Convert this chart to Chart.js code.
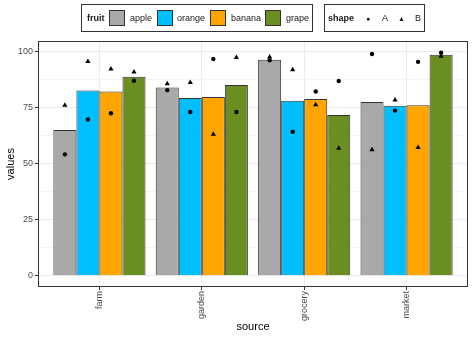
<!DOCTYPE html>
<html>
<head>
<meta charset="utf-8">
<script src="https://cdn.jsdelivr.net/npm/chart.js@4"></script>
<style>
  body { margin: 0; background: #fff; font-family: "Liberation Sans", Arial, sans-serif; }
  #wrap { position: relative; width: 474px; height: 338px; }
  canvas { position: absolute; left: 0; top: 0; }
  .box { position: absolute; top: 4px; height: 28px; border: 1px solid #333; box-sizing: border-box; }
  .lg { position: absolute; font-size: 9px; color: #1a1a1a; top: 18px; transform: translateY(-50%); white-space: nowrap; }
  .ttl { font-weight: bold; }
  .sw { position: absolute; top: 10px; width: 16px; height: 16px; box-sizing: border-box; border: 1px solid #333; }
</style>
</head>
<body>
<div id="wrap">
  <canvas id="myChart" width="474" height="338"></canvas>
  <div class="box" style="left:81px;width:232px"></div>
  <div class="box" style="left:324px;width:101px"></div>
  <span class="lg ttl" style="left:87px">fruit</span>
  <div class="sw" id="sw0" style="left:109px"></div><span class="lg" style="left:130px">apple</span>
  <div class="sw" id="sw1" style="left:157px"></div><span class="lg" style="left:177px">orange</span>
  <div class="sw" id="sw2" style="left:210px"></div><span class="lg" style="left:231px">banana</span>
  <div class="sw" id="sw3" style="left:265px"></div><span class="lg" style="left:286px">grape</span>
  <span class="lg ttl" style="left:328px">shape</span>
  <span class="lg" style="left:366px;font-size:7px">&#9679;</span><span class="lg" style="left:382px">A</span>
  <span class="lg" style="left:398px;font-size:7px">&#9650;</span><span class="lg" style="left:415px">B</span>
</div>
<script>
// categories
const sources = ['farm', 'garden', 'grocery', 'market'];
const fruits = ['apple', 'orange', 'banana', 'grape'];
const fruitColors = ['#A9A9A9', '#00BFFF', '#FFA500', '#6B8E23'];

// bar heights, one array per fruit (farm, garden, grocery, market)
const apple  = [65.0, 83.9, 96.2, 77.4];
const orange = [82.6, 79.2, 78.0, 75.7];
const banana = [82.1, 79.6, 78.8, 76.0];
const grape  = [88.7, 85.0, 71.6, 98.5];

// point values for shape A (circle) and B (triangle), rows = fruits
const shapeA = [
  [54.1, 82.7, 96.0, 98.8],
  [69.6, 73.0, 64.2, 73.6],
  [72.4, 96.6, 82.1, 95.3],
  [86.9, 73.0, 86.8, 99.4]
];
const shapeB = [
  [76.0, 85.6, 97.5, 56.2],
  [95.5, 86.1, 91.8, 78.3],
  [92.1, 63.1, 76.2, 57.1],
  [90.8, 97.2, 56.8, 97.8]
];

const yTicks = [0, 25, 50, 75, 100];

const barValues = [apple, orange, banana, grape];
const dodge = 0.9 / fruits.length;   // ggplot position_dodge(0.9)

function dodged(rows) {
  var pts = [];
  rows.forEach(function(row, j) {
    row.forEach(function(v, i) {
      pts.push({x: i + (j - 1.5) * dodge, y: v});
    });
  });
  return pts;
}

var datasets = fruits.map(function(f, j) {
  return {
    type: 'bar',
    label: f,
    data: barValues[j].map(function(v, i) { return {x: i, y: v}; }),
    backgroundColor: fruitColors[j],
    borderColor: '#333333',
    borderWidth: 1,
    categoryPercentage: 0.9,
    barPercentage: 1.0
  };
});
datasets.push({
  type: 'scatter', label: 'A', data: dodged(shapeA), order: -1,
  pointStyle: 'circle', pointRadius: 2.2, backgroundColor: '#000', borderColor: '#000', borderWidth: 0
});
datasets.push({
  type: 'scatter', label: 'B', data: dodged(shapeB), order: -1,
  pointStyle: 'triangle', pointRadius: 3, backgroundColor: '#000', borderColor: '#000', borderWidth: 0
});

fruitColors.forEach(function(c, j) { document.getElementById('sw' + j).style.background = c; });

// panel border, rotated x labels and axis titles, drawn like ggplot
const ggExtras = {
  id: 'ggExtras',
  afterDraw: function(chart) {
    var c = chart.ctx, a = chart.chartArea, xs = chart.scales.x;
    c.save();
    c.strokeStyle = '#333333';
    c.lineWidth = 1;
    c.strokeRect(Math.round(a.left) + 0.5, Math.round(a.top) + 0.5,
                 Math.round(a.right - a.left) - 1, Math.round(a.bottom - a.top) - 1);

    c.fillStyle = '#4d4d4d';
    c.font = '9px "Liberation Sans", Arial, sans-serif';
    c.textAlign = 'right';
    c.textBaseline = 'middle';
    sources.forEach(function(s, i) {
      c.save();
      c.translate(xs.getPixelForValue(i), a.bottom + 4);
      c.rotate(-Math.PI / 2);
      c.fillText(s, 0, 0);
      c.restore();
    });

    c.fillStyle = '#000';
    c.font = '11px "Liberation Sans", Arial, sans-serif';
    c.textAlign = 'center';
    c.fillText('source', (a.left + a.right) / 2, 327);
    c.save();
    c.translate(11, (a.top + a.bottom) / 2);
    c.rotate(-Math.PI / 2);
    c.fillText('values', 0, 0);
    c.restore();
    c.restore();
  }
};

var ctx = document.getElementById('myChart').getContext('2d');
var myChart = new Chart(ctx, {
  type: 'bar',
  data: {datasets: datasets},
  plugins: [ggExtras],
  options: {
    responsive: false,
    animation: false,
    layout: {padding: {left: 0, right: 6, top: 41, bottom: 0}},
    plugins: {legend: {display: false}, tooltip: {enabled: false}},
    scales: {
      x: {
        type: 'linear',
        offset: false,
        min: -0.6,
        max: 3.6,
        afterBuildTicks: function(scale) {
          scale.ticks = sources.map(function(s, i) { return {value: i}; });
        },
        afterFit: function(scale) { scale.height = 51; },
        ticks: {display: false},
        border: {display: false},
        grid: {offset: false, color: '#ebebeb', lineWidth: 1, tickLength: 3, tickColor: '#333333'}
      },
      y: {
        type: 'linear',
        min: -5,
        max: 104.6,
        afterBuildTicks: function(scale) {
          var t = [];
          for (var v = 0; v <= 100; v += 12.5) t.push({value: v});
          scale.ticks = t;
        },
        afterFit: function(scale) { scale.width = 38; },
        border: {display: false},
        ticks: {
          color: '#4d4d4d',
          padding: 2,
          font: {family: '"Liberation Sans", Arial, sans-serif', size: 9},
          callback: function(v) { return yTicks.indexOf(v) >= 0 ? v : ''; }
        },
        grid: {
          tickLength: 3,
          color: function(c) { return yTicks.indexOf(c.tick.value) >= 0 ? '#ebebeb' : '#f5f5f5'; },
          tickColor: function(c) { return yTicks.indexOf(c.tick.value) >= 0 ? '#333333' : 'rgba(0,0,0,0)'; }
        }
      }
    }
  }
});
</script>
</body>
</html>
